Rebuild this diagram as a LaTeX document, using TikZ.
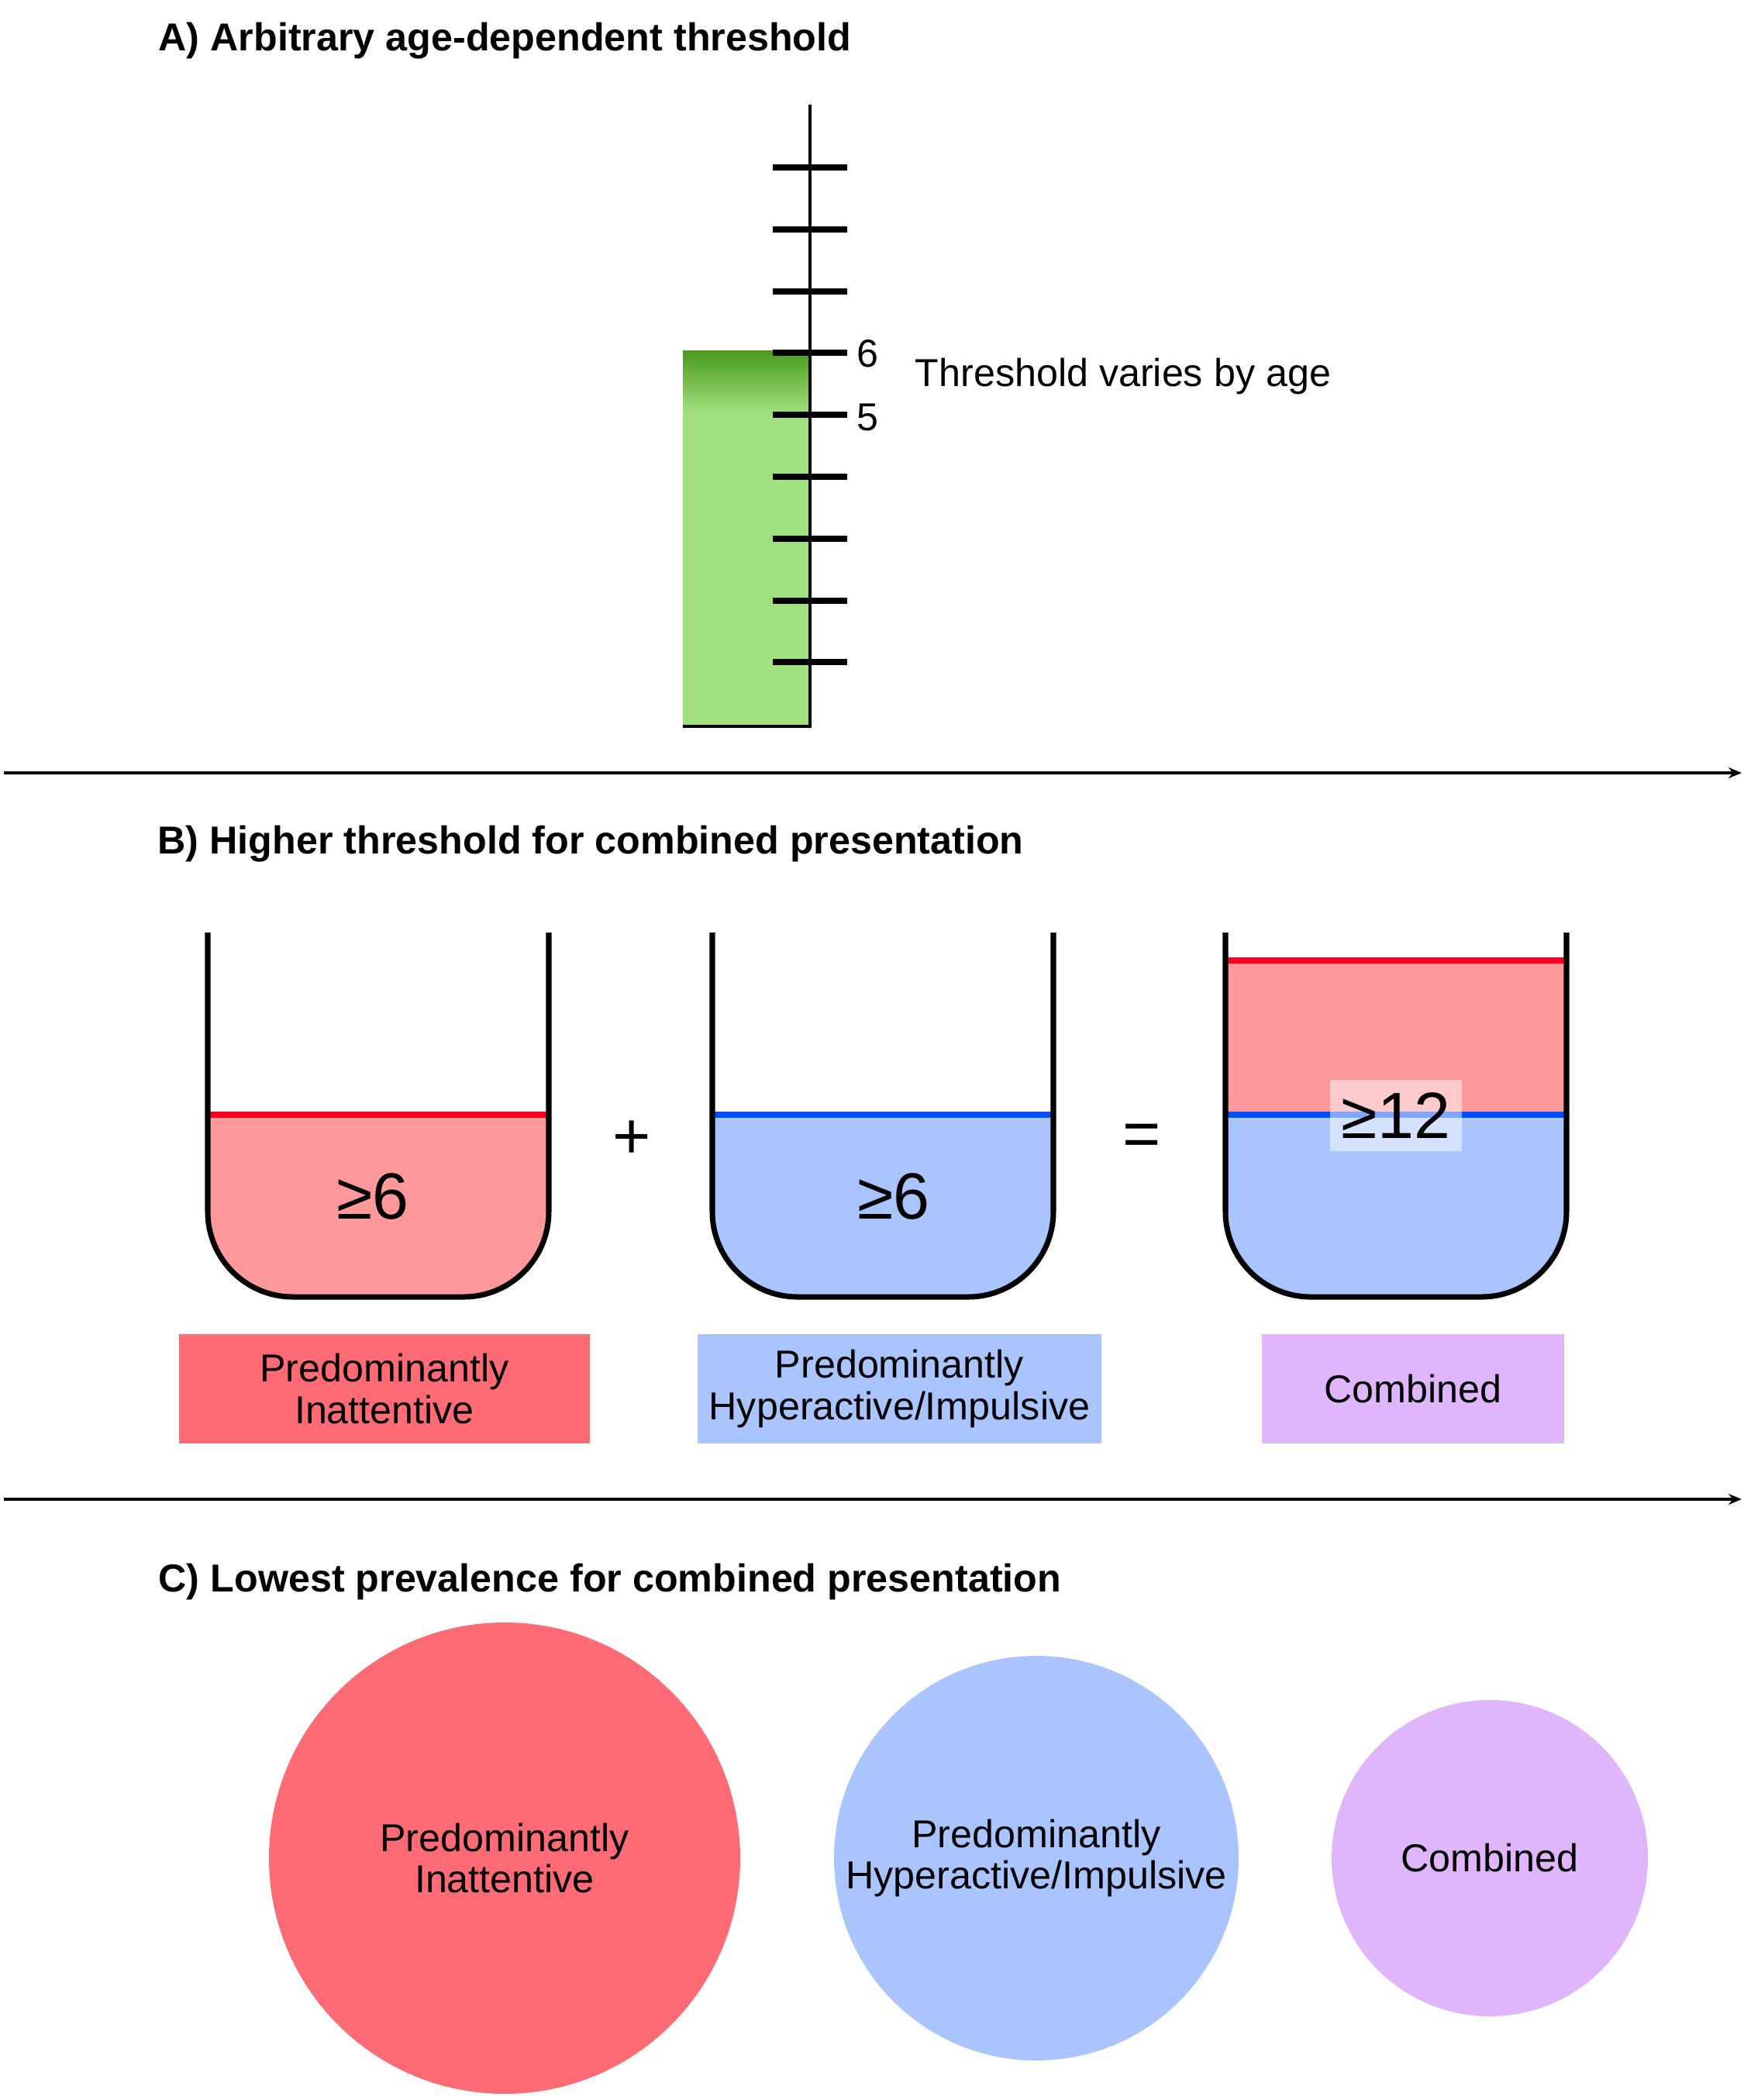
\documentclass[tikz,border=0pt]{standalone}
\usepackage{fontspec}
\setmainfont{Liberation Sans}
\usetikzlibrary{arrows.meta}

\definecolor{pinkfill}{HTML}{FF989B}
\definecolor{redline}{HTML}{FF0022}
\definecolor{bluefill}{HTML}{A9C4FF}
\definecolor{blueline}{HTML}{0050FF}
\definecolor{inattred}{HTML}{FF6B75}
\definecolor{combviolet}{HTML}{DFB5FB}
\definecolor{greendark}{HTML}{4A9A1E}
\definecolor{greenlight}{HTML}{A0E07E}

% open beaker from the given height down round the bottom and up again
\newcommand{\cupfrom}[2]{(#1,#2) -- (#1,-15.63) arc[start angle=180,end angle=270,radius=1.1]
  -- ++(2.2,0) arc[start angle=270,end angle=360,radius=1.1] -- (#1+4.4,#2)}

\tikzset{
  paneltitle/.style={anchor=base west, inner sep=0pt, font=\fontsize{14.3}{17}\selectfont\bfseries},
  plain/.style={inner sep=0pt, font=\fontsize{14.3}{15}\selectfont},
  bignum/.style={inner sep=0pt, font=\fontsize{24}{28}\selectfont},
  divider/.style={line width=1pt, -{Stealth[length=0.17cm, width=0.14cm]}},
  wall/.style={line width=2pt, line join=round},
  level/.style={line width=2.3pt},
  labelbox/.style={inner sep=0pt, minimum height=1.41cm, align=center,
    font=\fontsize{14.3}{15.2}\selectfont},
  blob/.style={circle, inner sep=0pt, align=center, font=\fontsize{14.3}{15.2}\selectfont}
}

\begin{document}
\begin{tikzpicture}
    \useasboundingbox (0,0) rectangle (22.5,-27.09);

    % A) ruler with threshold bar
    \node[paneltitle] (titleA) at (2.04,-0.65) {A) Arbitrary age-dependent threshold};
    \fill[greenlight] (8.81,-5.30) rectangle (10.45,-9.37);
    \shade[top color=greendark, bottom color=greenlight] (8.81,-4.52) rectangle (10.45,-5.32);
    \draw[line width=1.4pt] (10.45,-1.35) -- (10.45,-9.37) -- (8.81,-9.37);
    \foreach \k in {0,...,8}
        \draw[line width=2.3pt] (9.97,-2.16-0.798*\k) -- (10.93,-2.16-0.798*\k);
    \node[plain, anchor=base west] (tick6) at (11.05,-4.73) {6};
    \node[plain, anchor=base west] (tick5) at (11.05,-5.55) {5};
    \node[plain, anchor=base west] (agenote) at (11.80,-4.98) {Threshold varies by age};

    \coordinate (sepAB-l) at (0.05,-9.97);
    \coordinate (sepAB-r) at (22.47,-9.97);
    \draw[divider] (sepAB-l) -- (sepAB-r);

    % B) beakers
    \node[paneltitle] (titleB) at (2.03,-11.01) {B) Higher threshold for combined presentation};
    \fill[pinkfill] \cupfrom{2.68}{-14.38} -- cycle;
    \fill[bluefill] \cupfrom{9.19}{-14.38} -- cycle;
    \fill[pinkfill] (15.81,-12.39) rectangle (20.21,-14.38);
    \fill[bluefill] \cupfrom{15.81}{-14.38} -- cycle;
    \draw[level, redline] (2.68,-14.38) -- (7.08,-14.38);
    \draw[level, blueline] (9.19,-14.38) -- (13.59,-14.38);
    \draw[level, redline] (15.81,-12.39) -- (20.21,-12.39);
    \draw[level, blueline] (15.81,-14.38) -- (20.21,-14.38);
    \foreach \l in {2.68,9.19,15.81}
        \draw[wall] \cupfrom{\l}{-12.03};

    \node[bignum] (inatt-min) at (4.81,-15.43) {≥6};
    \node[bignum] (hyper-min) at (11.53,-15.43) {≥6};
    \node[bignum] (plus) at (8.15,-14.70) {+};
    \node[bignum] (equals) at (14.73,-14.71) {=};
    \node[bignum, fill=white, fill opacity=0.5, text opacity=1,
          minimum width=1.70cm, minimum height=0.92cm] (comb-min) at (18.01,-14.39) {≥12};

    \node[labelbox, fill=inattred, minimum width=5.30cm] (inatt-lab) at (4.96,-17.915)
        {Predominantly\\Inattentive};
    \node[labelbox, fill=bluefill, minimum width=5.21cm] (hyper-lab) at (11.605,-17.915)
        {Predominantly\\Hyperactive/Impulsive};
    \node[labelbox, fill=combviolet, minimum width=3.90cm] (comb-lab) at (18.23,-17.915)
        {Combined};

    \coordinate (sepBC-l) at (0.05,-19.34);
    \coordinate (sepBC-r) at (22.47,-19.34);
    \draw[divider] (sepBC-l) -- (sepBC-r);

    % C) prevalence circles
    \node[paneltitle] (titleC) at (2.04,-20.53) {C) Lowest prevalence for combined presentation};
    \node[blob, fill=inattred, minimum size=6.08cm] (inatt-circ) at (6.51,-23.97)
        {Predominantly\\Inattentive};
    \node[blob, fill=bluefill, minimum size=5.22cm] (hyper-circ) at (13.37,-23.97)
        {Predominantly\\Hyperactive/Impulsive};
    \node[blob, fill=combviolet, minimum size=4.08cm] (comb-circ) at (19.22,-23.97)
        {Combined};
\end{tikzpicture}
\end{document}
